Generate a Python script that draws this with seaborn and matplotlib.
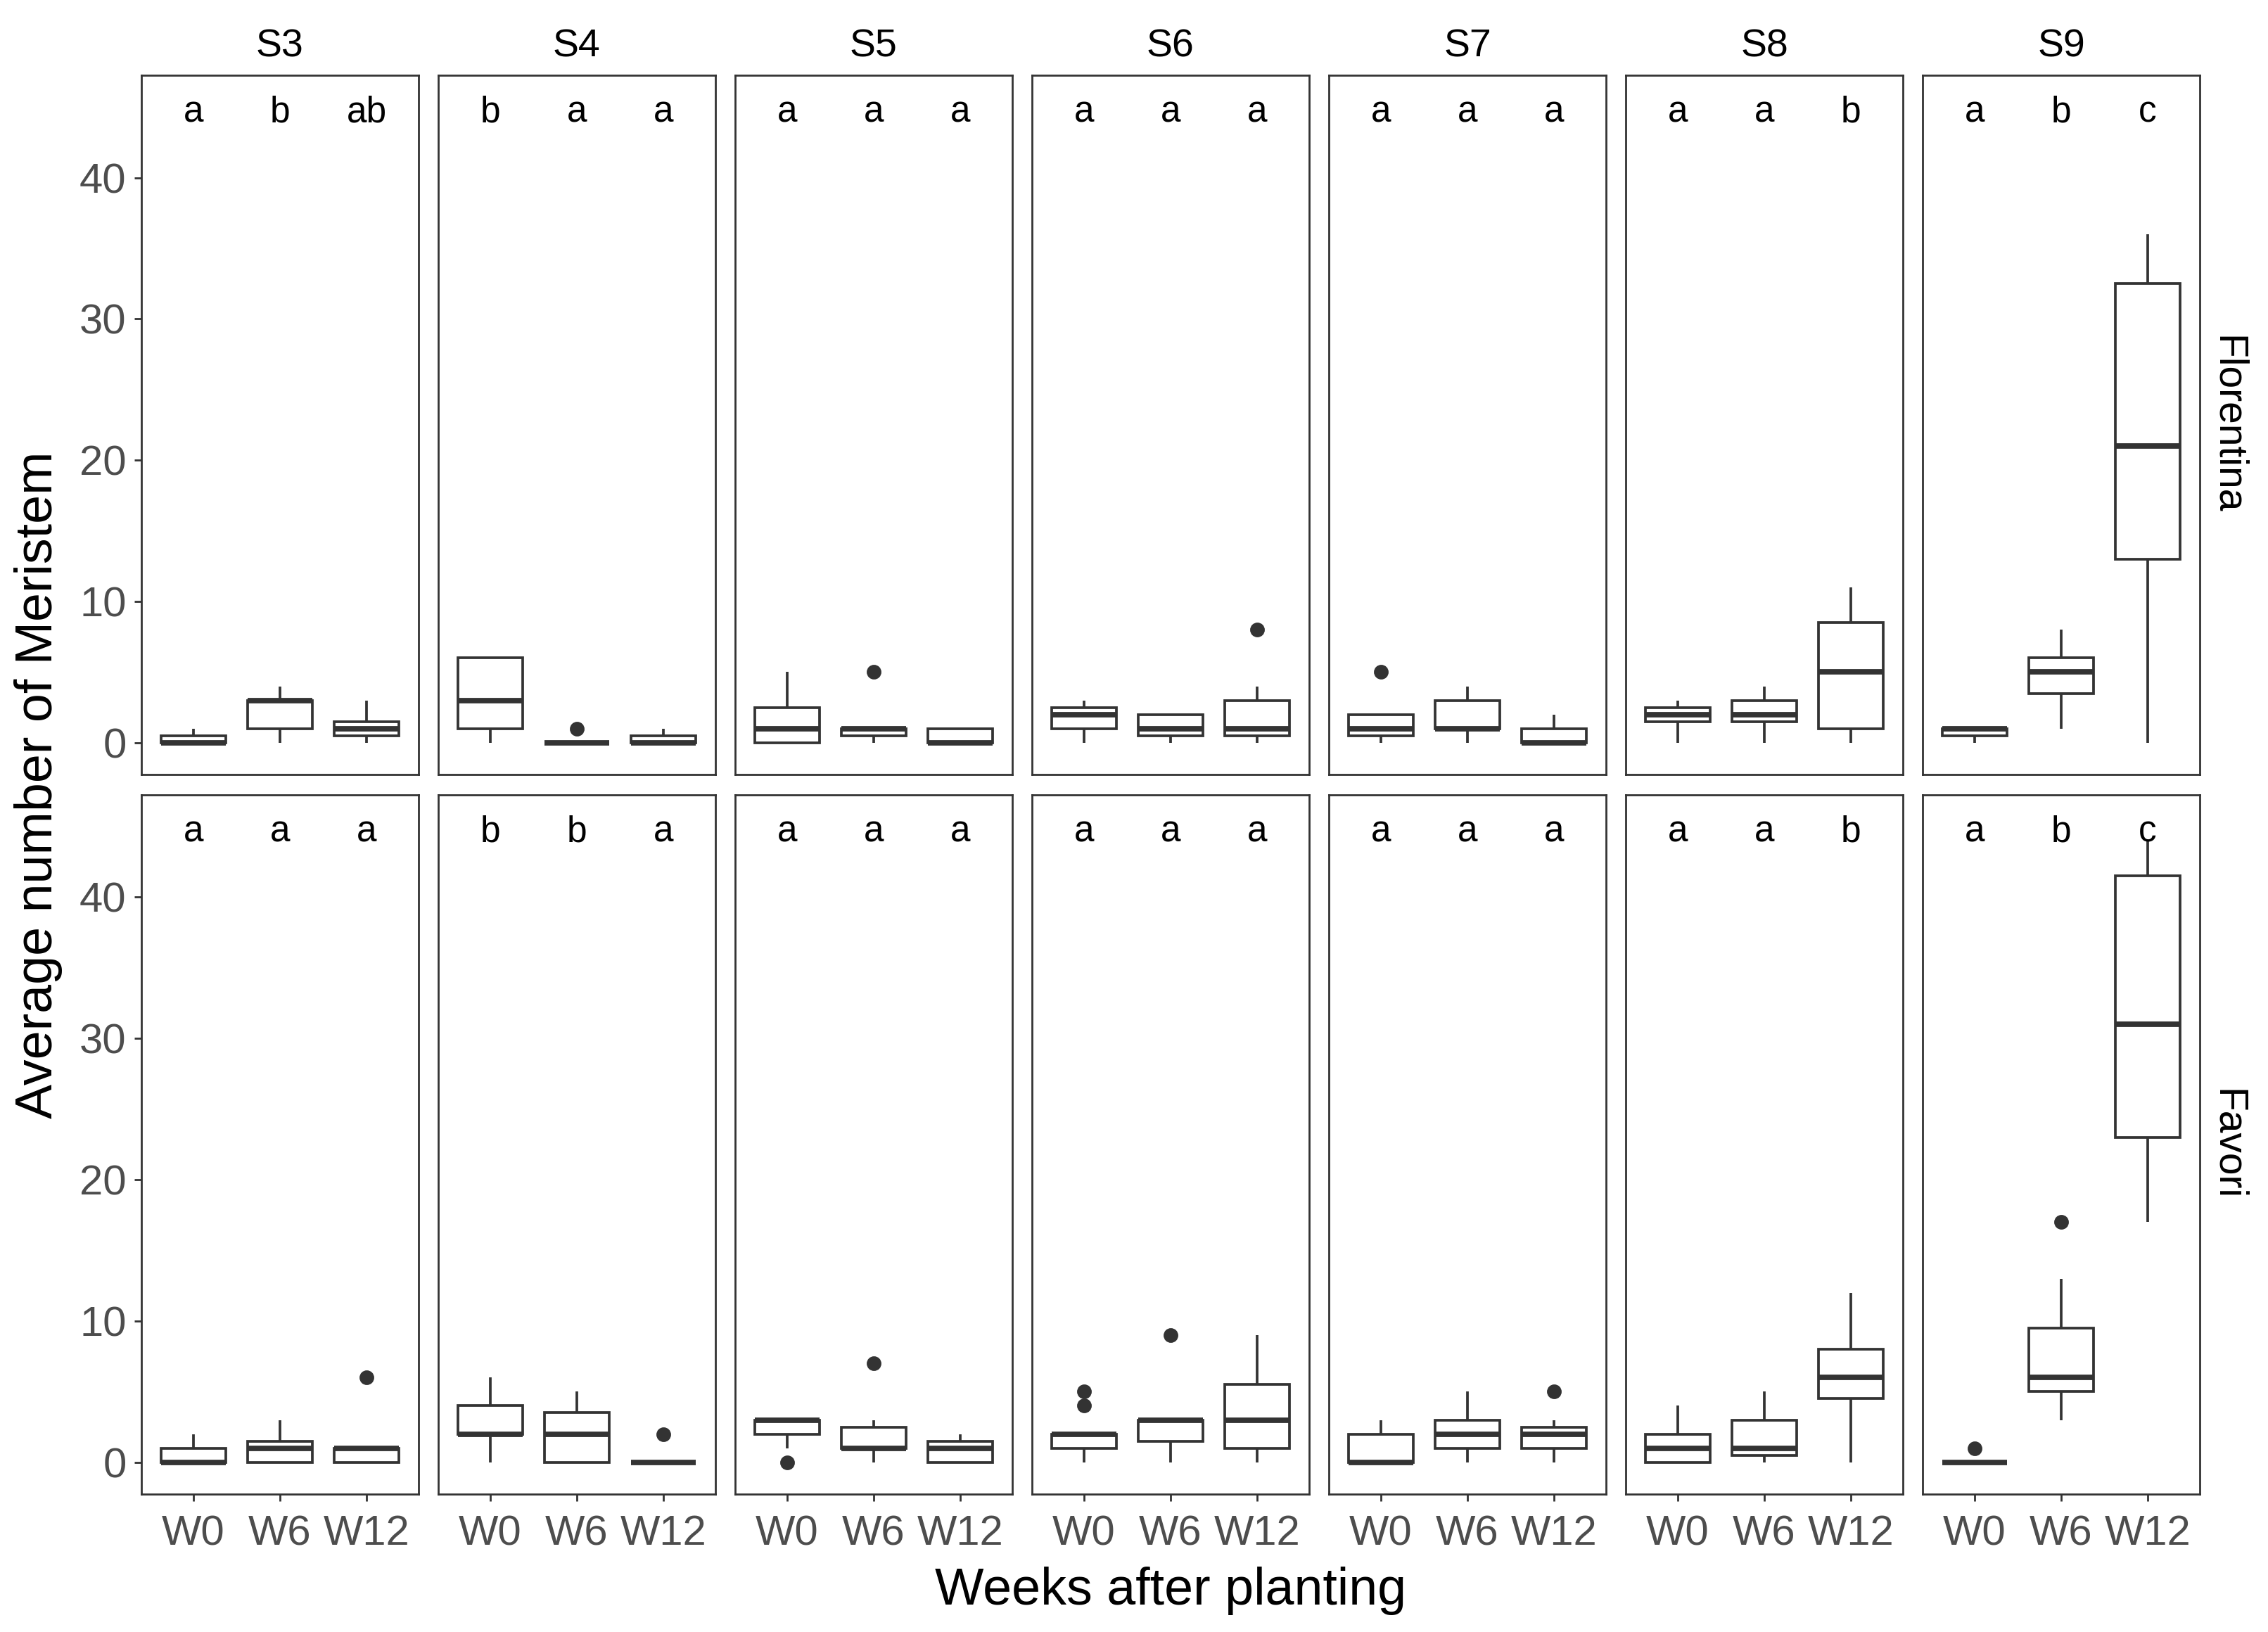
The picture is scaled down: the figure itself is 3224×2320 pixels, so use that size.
import matplotlib
matplotlib.use("Agg")
import pandas as pd
import matplotlib.pyplot as plt
import matplotlib.transforms as mtransforms
import seaborn as sns

stages = ["S3", "S4", "S5", "S6", "S7", "S8", "S9"]
weeks = ["W0", "W6", "W12"]
varieties = ["Florentina", "Favori"]

# observations per stage, one list per week (W0, W6, W12)
flo_s3 = [[0, 0, 0, 0, 0, 0, 0.5, 1, 1], [0, 1, 1, 2, 3, 3, 3, 4, 4], [0, 0.5, 0.5, 1, 1, 1, 1.5, 2, 3]]
flo_s4 = [[0, 1, 1, 2, 3, 4, 6, 6, 6], [0, 0, 0, 0, 0, 0, 0, 0, 1], [0, 0, 0, 0, 0, 0, 0.5, 1, 1]]
flo_s5 = [[0, 0, 0, 1, 1, 2, 2.5, 3, 5], [0, 0.5, 0.5, 1, 1, 1, 1, 1, 5], [0, 0, 0, 0, 0, 1, 1, 1, 1]]
flo_s6 = [[0, 1, 1, 2, 2, 2, 2.5, 3, 3], [0, 0.5, 0.5, 1, 1, 2, 2, 2, 2], [0, 0.5, 0.5, 1, 1, 2, 3, 4, 8]]
flo_s7 = [[0, 0.5, 0.5, 1, 1, 2, 2, 2, 5], [0, 1, 1, 1, 1, 2, 3, 4, 4], [0, 0, 0, 0, 0, 1, 1, 2, 2]]
flo_s8 = [[0, 1, 1.5, 2, 2, 2, 2.5, 3, 3], [0, 1, 1.5, 2, 2, 2, 3, 4, 4], [0, 1, 1, 3, 5, 6, 8.5, 10, 11]]
flo_s9 = [[0, 0.5, 0.5, 1, 1, 1, 1, 1, 1], [1, 3, 3.5, 4, 5, 5, 6, 7, 8], [0, 8, 13, 17, 21, 27, 32.5, 35, 36]]

fav_s3 = [[0, 0, 0, 0, 0, 1, 1, 2, 2], [0, 0, 0, 1, 1, 1, 1.5, 2, 3], [0, 0, 0, 1, 1, 1, 1, 1, 6]]
fav_s4 = [[0, 2, 2, 2, 2, 3, 4, 5, 6], [0, 0, 0, 1, 2, 3, 3.5, 4, 5], [0, 0, 0, 0, 0, 0, 0, 0, 2]]
fav_s5 = [[0, 1, 2, 3, 3, 3, 3, 3, 3], [0, 1, 1, 1, 1, 2, 2.5, 3, 7], [0, 0, 0, 1, 1, 1, 1.5, 2, 2]]
fav_s6 = [[0, 1, 1, 2, 2, 2, 2, 4, 5], [0, 1, 1.5, 2, 3, 3, 3, 3, 9], [0, 1, 1, 2, 3, 4, 5.5, 7, 9]]
fav_s7 = [[0, 0, 0, 0, 0, 1, 2, 3, 3], [0, 1, 1, 2, 2, 3, 3, 4, 5], [0, 1, 1, 2, 2, 2, 2.5, 3, 5]]
fav_s8 = [[0, 0, 0, 1, 1, 2, 2, 3, 4], [0, 0.5, 0.5, 1, 1, 2, 3, 4, 5], [0, 3, 4.5, 5, 6, 7, 8, 10, 12]]
fav_s9 = [[0, 0, 0, 0, 0, 0, 0, 0, 1], [3, 5, 5, 6, 6, 8, 9.5, 13, 17], [17, 20, 23, 27, 31, 36, 41.5, 43, 44]]

flo_letters = [["a", "b", "ab"], ["b", "a", "a"], ["a", "a", "a"], ["a", "a", "a"],
               ["a", "a", "a"], ["a", "a", "b"], ["a", "b", "c"]]
fav_letters = [["a", "a", "a"], ["b", "b", "a"], ["a", "a", "a"], ["a", "a", "a"],
               ["a", "a", "a"], ["a", "a", "b"], ["a", "b", "c"]]
letter_y = 45

groups = {
    "Florentina": [flo_s3, flo_s4, flo_s5, flo_s6, flo_s7, flo_s8, flo_s9],
    "Favori": [fav_s3, fav_s4, fav_s5, fav_s6, fav_s7, fav_s8, fav_s9],
}
letters = {"Florentina": flo_letters, "Favori": fav_letters}

rows = []
for variety in varieties:
    for stage, per_week in zip(stages, groups[variety]):
        for week, vals in zip(weeks, per_week):
            for v in vals:
                rows.append((variety, stage, week, v))
df = pd.DataFrame(rows, columns=["variety", "stage", "week", "meristem"])

sns.set_theme(style="white")
plt.rcParams["font.family"] = ["Liberation Sans", "DejaVu Sans"]

dark = "#333333"
fig, axes = plt.subplots(2, 7, figsize=(16.12, 11.6), dpi=200, sharey=True)
plt.subplots_adjust(left=0.0623, right=0.9699, top=0.9539, bottom=0.0845,
                    wspace=0.0712, hspace=0.029)

for r, variety in enumerate(varieties):
    for c, stage in enumerate(stages):
        ax = axes[r, c]
        sub = df[(df["variety"] == variety) & (df["stage"] == stage)]
        sns.boxplot(data=sub, x="week", y="meristem", order=weeks, ax=ax,
                    width=0.75, color="white", linecolor=dark, linewidth=1.35,
                    showcaps=False, fliersize=6.5,
                    flierprops=dict(marker="o", markerfacecolor=dark, markeredgecolor=dark),
                    medianprops=dict(linewidth=2.8, color=dark))
        # nudge letters down a little so they sit like ggplot's centred text
        shifted = mtransforms.offset_copy(ax.transData, fig=fig, y=-3, units="points")
        for i, lab in enumerate(letters[variety][c]):
            ax.text(i, letter_y, lab, ha="center", va="center", fontsize=18.5,
                    color="black", transform=shifted)
        ax.set_xlim(-0.6, 2.6)
        ax.set_ylim(-2.25, 47.25)
        ax.set_yticks([0, 10, 20, 30, 40])
        ax.set_xlabel("")
        ax.set_ylabel("")
        for sp in ax.spines.values():
            sp.set_visible(True)
            sp.set_color(dark)
            sp.set_linewidth(1.0)
        ax.tick_params(axis="both", direction="out", length=3.6, width=1.0, color=dark,
                       labelcolor="#4D4D4D", labelsize=21.5, pad=4)
        ax.tick_params(axis="x", bottom=(r == 1), labelbottom=(r == 1), pad=7)
        ax.tick_params(axis="y", left=(c == 0), labelleft=(c == 0))
        if r == 0:
            ax.text(0.5, 1.041, stage, transform=ax.transAxes, ha="center", va="center",
                    fontsize=20, color="black")
        if c == 6:
            ax.text(1.1, 0.5, variety, transform=ax.transAxes, ha="center", va="center",
                    rotation=-90, fontsize=20.5, color="black")

fig.text(0.017, 0.519, "Average number of Meristem", rotation=90, ha="center", va="center",
         fontsize=26.5, color="black")
fig.text(0.516, 0.025, "Weeks after planting", ha="center", va="center",
         fontsize=26.5, color="black")

fig.savefig("out.png", dpi=200)
